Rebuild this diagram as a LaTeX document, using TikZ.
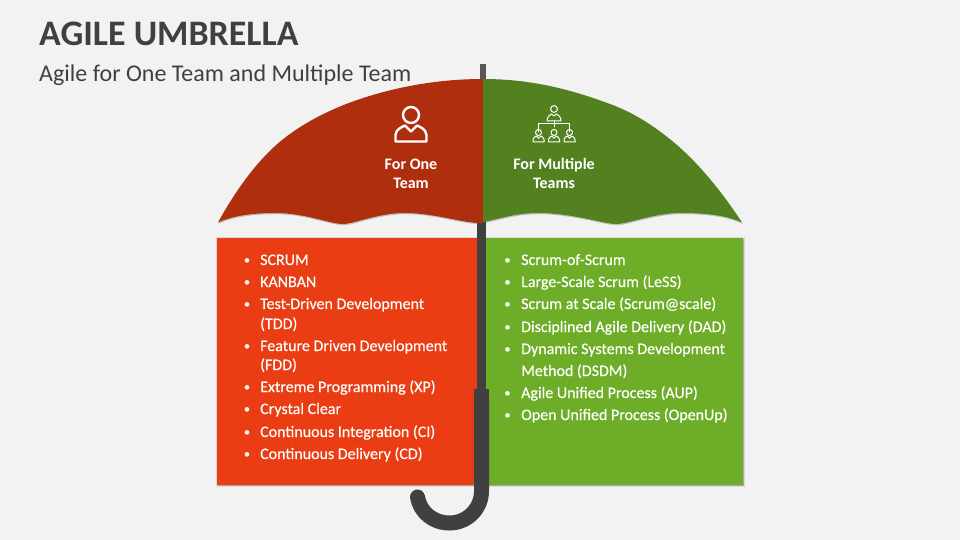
\documentclass[tikz,border=0pt]{standalone}
\usepackage{fontspec}
\setmainfont{Carlito}
\newfontfamily\bodyfont[FakeBold=0.25]{Carlito}
\usetikzlibrary{shadows}
\definecolor{pagebg}{HTML}{F2F2F2}
\definecolor{ink}{HTML}{404040}
\definecolor{canopyred}{HTML}{AE2E0D}
\definecolor{canopygreen}{HTML}{54811F}
\definecolor{panelred}{HTML}{EA3D13}
\definecolor{panelgreen}{HTML}{6EAD27}
\tikzset{
  x=1pt,y=-1pt,
  titletext/.style={anchor=base west,inner sep=0pt,text=ink,font=\fontsize{35.9}{36}\selectfont\bfseries},
  subtext/.style={anchor=base west,inner sep=0pt,text=ink,font=\fontsize{24}{24}\selectfont},
  headtext/.style={anchor=base,inner sep=0pt,text=white,font=\fontsize{16}{16}\selectfont\bfseries},
  item/.style={anchor=base west,inner sep=0pt,text=white,font=\bodyfont\fontsize{16}{16}\selectfont},
  dotmark/.style={anchor=center,inner sep=0pt,text=white,font=\fontsize{13}{13}\selectfont},
  softshadow/.style={drop shadow={shadow xshift=0.6pt,shadow yshift=-1.2pt,opacity=.3,fill=black!70}},
  panel/.style={draw=none,minimum height=247pt,inner sep=0pt,anchor=north west,softshadow,
    preaction={draw=black,opacity=.1,line width=3pt}},
  iconline/.style={draw=white,line width=#1,line join=round,line cap=round},
}
\begin{document}
\begin{tikzpicture}
\useasboundingbox (0,0) rectangle (960,540);
\fill[pagebg] (0,0) rectangle (960,540);
\node[titletext] (title) at (39,46) {AGILE UMBRELLA};
\node[subtext] (subtitle) at (39,82) {Agile for One Team and Multiple Team};
% ferrule
\fill[ink!88!white] (480,64) rectangle (486,82);
% panels
\node[panel,fill=panelred,minimum width=260pt] (leftpanel) at (217,238) {};
\node[panel,fill=panelgreen,minimum width=257pt] (rightpanel) at (486,238) {};
% shaft and hook
\fill[ink] (477,215) rectangle (486,392);
\draw[ink,line width=15pt,line cap=round] (481.5,398) -- (481.5,491)
  .. controls (481.5,509) and (467,523) .. (449.5,523)
  .. controls (433,523) and (420,512) .. (417.5,497);
\fill[ink] (474,389) rectangle (489,400);
% canopy
\fill[canopyred,softshadow] (483,79) .. controls (435,79) and (390,88) .. (350,102.5)
  .. controls (325,112) and (302,124) .. (282,140)
  .. controls (260,158) and (238,186) .. (218,222.5)
  .. controls (232,216) and (252,213) .. (275,213)
  .. controls (305,213) and (330,224) .. (343,224)
  .. controls (354,224) and (378,213) .. (405,213)
  .. controls (435,213) and (465,224) .. (483,223) -- cycle;
\fill[canopygreen,softshadow] (483,79) .. controls (530,79) and (570,89) .. (610,104)
  .. controls (635,113) and (657,128) .. (677,145)
  .. controls (700,165) and (722,192) .. (742,222.5)
  .. controls (725,215) and (705,213) .. (680,213)
  .. controls (655,213) and (628,224) .. (616,224)
  .. controls (604,224) and (572,213) .. (538,213)
  .. controls (515,213) and (500,219) .. (483,222) -- cycle;
% single person icon
\draw[iconline=2.4pt] (411,115) circle (8);
\draw[iconline=2.4pt] (395.5,141.5) -- (426.5,141.5) -- (426.5,135)
  .. controls (426,129) and (420,127) .. (417,125.5) -- (411,131.5) -- (405,125.5)
  .. controls (402,127) and (396,129) .. (395.5,135) -- cycle;
% team icon
\begin{scope}[iconline=1pt]
\draw (554,109) circle (3.4);
\draw (547,121) .. controls (547,116.5) and (550,115) .. (551.5,114) -- (554,116) -- (556.5,114)
  .. controls (558,115) and (561,116.5) .. (561,121) -- cycle;
\draw (554,121) -- (554,127);
\draw (538.5,132) -- (538.5,123.5) -- (569.5,123.5) -- (569.5,132);
\foreach \cx/\n in {538.5/a,554/b,569.5/c}{
  \draw (\cx,132.5) circle (3);
  \draw (\cx-5.5,142) -- (\cx-5.5,139.5) .. controls (\cx-5.5,137.5) and (\cx-3.5,137) .. (\cx-2.2,136) -- (\cx,138.2) -- (\cx+2.2,136)
    .. controls (\cx+3.5,137) and (\cx+5.5,137.5) .. (\cx+5.5,139.5) -- (\cx+5.5,142) -- cycle;
}
\end{scope}
% canopy labels
\node[headtext] (oneA) at (411,170) {For One};
\node[headtext] (oneB) at (411,188) {Team};
\node[headtext] (multiA) at (554,170) {For Multiple};
\node[headtext] (multiB) at (554,188) {Teams};
% left list
\foreach \i/\y/\t/\b in {
  1/265/SCRUM/1, 2/287/KANBAN/1, 3/309/Test-Driven Development/1, 4/329/(TDD)/0,
  5/351/Feature Driven Development/1, 6/370/(FDD)/0, 7/392/Extreme Programming (XP)/1,
  8/414/Crystal Clear/1, 9/437/Continuous Integration (CI)/1, 10/459/Continuous Delivery (CD)/1}{
  \node[item] (L\i) at (260,\y) {\t};
  \ifnum\b=1 \node[dotmark] (LB\i) at (247,\y-3.5) {•}; \fi
}
% right list
\foreach \i/\y/\t in {
  1/265/Scrum-of-Scrum, 2/287/Large-Scale Scrum (LeSS), 3/309/Scrum at Scale (Scrum@scale),
  4/332/Disciplined Agile Delivery (DAD), 5/354/Dynamic Systems Development, 6/376/Method (DSDM),
  7/398/Agile Unified Process (AUP), 8/420/Open Unified Process (OpenUp)}{
  \node[item] (R\i) at (521,\y) {\t};
}
\foreach \i/\y in {1/265,2/287,3/309,4/332,5/354,7/398,8/420}{
  \node[dotmark] (RB\i) at (507.5,\y-3.5) {•};
}
\end{tikzpicture}
\end{document}
